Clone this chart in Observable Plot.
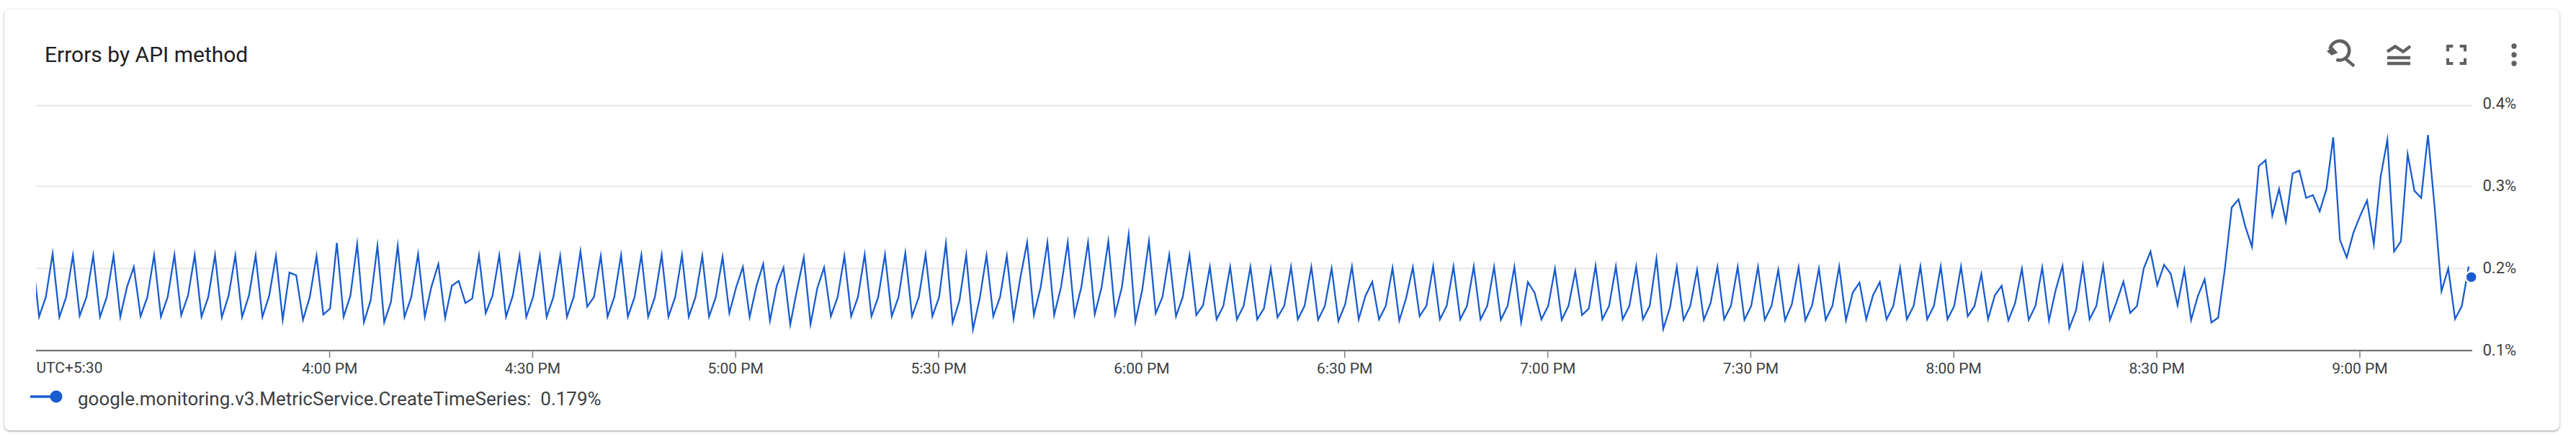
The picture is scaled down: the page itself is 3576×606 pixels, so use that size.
<!DOCTYPE html>
<html>
<head>
<meta charset="utf-8">
<script src="https://cdn.jsdelivr.net/npm/d3@7"></script>
<script src="https://cdn.jsdelivr.net/npm/@observablehq/plot@0.6"></script>
<style>
  html, body { margin: 0; padding: 0; background: #fff; width: 3576px; height: 606px; overflow: hidden; font-family: Roboto, sans-serif; }
  #card { position: absolute; left: 6px; top: 13px; width: 3547px; height: 584px; border-radius: 8px; background: #fff;
          box-shadow: 0 1px 2px rgba(60,64,67,.45), 0 1px 4px 1px rgba(60,64,67,.12); }
  #title { position: absolute; left: 62px; top: 58px; font-size: 30px; line-height: 36px; color: #202124; white-space: nowrap; }
  #chart { position: absolute; left: 0; top: 100px; }
  #legend-text { position: absolute; left: 108px; top: 535px; font-size: 26px; line-height: 36px; color: #3c4043; white-space: pre; }
  svg.deco { position: absolute; overflow: visible; }
</style>
</head>
<body>
<div id="card"></div>
<div id="title"></div>
<svg class="deco" style="left:3210px;top:40px" width="300" height="70" viewBox="0 0 900 210" fill="none" stroke="#616161">
  <path d="M74 84A40 40 0 1 1 100 128" stroke-width="14"/>
  <path d="M60 93L84 76L106 100L80 110Z" fill="#616161" stroke="none"/>
  <path d="M135 122L174 155" stroke-width="13"/>
  <path d="M312 95L345 73L378 95L408 73" stroke-width="13"/>
  <path d="M312 120H408M312 144H408" stroke-width="14"/>
  <path d="M564 94V72H586M614 72H636V94M564 122V144H586M614 144H636V122" stroke-width="12"/>
  <circle cx="840" cy="72" r="11" fill="#616161" stroke="none"/>
  <circle cx="840" cy="108" r="11" fill="#616161" stroke="none"/>
  <circle cx="840" cy="144" r="11" fill="#616161" stroke="none"/>
</svg>
<div id="chart"></div>
<svg class="deco" style="left:40px;top:535px" width="50" height="36" viewBox="0 0 50 36">
  <path d="M2 15H30" stroke="#185ccf" stroke-width="3.5"/>
  <circle cx="38" cy="15" r="8.5" fill="#185ccf"/>
</svg>
<div id="legend-text"></div>
<script>
const chartTitle = "Errors by API method";
const seriesName = "google.monitoring.v3.MetricService.CreateTimeSeries";
const seriesLatest = "0.179%";
const timezoneLabel = "UTC+5:30";
const lineColor = "#185ccf";

// Error rate (%), one sample per minute from 3:16 PM
const errorsA = [0.2164,
  .1412,.1652,.2178, .1409,.1652,.2158, .1424,.1652,.2158, .1409,.1652,.2158,
  .1412,.1778,.2018, .1418,.1652,.2164, .1412,.1652,.2164, .1433,.1667,.2164,
  .1412,.1652,.2164, .1404,.1667,.2158, .1409,.1667,.2158, .1409,.1667,.2152,
  .1374,.1950,.1915, .1374,.1652,.2152, .1439,.1512,.2310, .1412,.1667,.2295,
  .1345,.1614,.2275, .1345,.1594,.2275, .1409,.1652,.2173, .1412,.1784,.2053];
const errorsB = [
  .1398,.1789,.1848, .1579,.1632,.2158, .1456,.1667,.2158, .1412,.1667,.2152,
  .1409,.1652,.2152, .1409,.1652,.2152, .1409,.1652,.2208, .1535,.1652,.2152,
  .1412,.1652,.2164, .1412,.1652,.2164, .1412,.1652,.2164, .1412,.1652,.2164,
  .1412,.1652,.2152, .1412,.1652,.2140, .1456,.1769,.2018, .1409,.1784,.2053,
  .1365,.1789,.2009, .1316,.1740,.2135, .1322,.1760,.2012, .1418,.1652,.2152];
const errorsC = [
  .1418,.1652,.2170, .1418,.1652,.2170, .1418,.1652,.2187, .1418,.1652,.2170,
  .1418,.1652,.2304, .1339,.1608,.2164, .1257,.1637,.2158, .1418,.1652,.2152,
  .1389,.1886,.2316, .1433,.1769,.2316, .1433,.1769,.2316, .1433,.1769,.2316,
  .1442,.1769,.2330, .1442,.1769,.2412, .1351,.1731,.2330, .1453,.1652,.2164,
  .1418,.1652,.2158, .1433,.1550,.2018, .1380,.1544,.2018, .1380,.1544,.2018];
const errorsD = [
  .1380,.1515,.2000, .1404,.1544,.2018, .1380,.1544,.2018, .1374,.1544,.2000,
  .1360,.1564,.2023, .1380,.1667,.1836, .1380,.1544,.2006, .1365,.1637,.2012,
  .1418,.1544,.2023, .1380,.1544,.2023, .1380,.1544,.2023, .1380,.1544,.2018,
  .1374,.1544,.2018, .1345,.1833,.1702, .1380,.1544,.1997, .1374,.1544,.1965,
  .1433,.1512,.2032, .1380,.1544,.2023, .1380,.1544,.2023, .1380,.1544,.2120];
const errorsE = [
  .1263,.1526,.2018, .1374,.1544,.1982, .1374,.1579,.2018, .1380,.1544,.2018,
  .1374,.1544,.2018, .1374,.1544,.1982, .1368,.1564,.2012, .1368,.1550,.1997,
  .1374,.1544,.2023, .1368,.1705,.1827, .1380,.1673,.1833, .1380,.1544,.2006,
  .1380,.1544,.2023, .1380,.1544,.2023, .1380,.1544,.2023, .1418,.1544,.1930,
  .1383,.1673,.1789, .1368,.1579,.1997, .1374,.1544,.2012, .1365,.1740,.2029];
const errorsF = [
  .1272,.1491,.2032, .1380,.1544,.2029, .1374,.1594,
  .1839,.1459,.1541,.2000,.2205,.1795,.2044,.1933,.1553,.1985,.1371,.1664,
  .1868,.1342,.1401,.2000,.2740,.2839,.2512,.2263,.3243,.3316,.2643,.2965,
  .2570,.3155,.3190,.2857,.2892,.2693,.2965,.3594,.2345,.2132,.2439,.2643,
  .2827,.2292,.3111,.3564,.2205,.2330,.3389,.2944,.2857,.3623,.2731,.1722,
  .2000,.1386,.1541,.2015];
const errorValues = [...errorsA, ...errorsB, ...errorsC, ...errorsD, ...errorsE, ...errorsF];

const yTicks = [0.1, 0.2, 0.3, 0.4];
const gridValues = [0.2, 0.3];
const topGridValue = [0.4];
const tickTimes = ["16:00","16:30","17:00","17:30","18:00","18:30","19:00","19:30","20:00","20:30","21:00"];
const windowStart = "15:16:40";
const windowEnd = "21:16:40";
const firstSample = "15:16:04";
const hoverTime = "21:16:28";
const hoverValue = 0.1895;

const at = s => new Date(`2024-01-01T${s.length === 5 ? s + ":00" : s}Z`);
const table = errorValues.map((value, i) => ({ time: new Date(+at(firstSample) + i * 60000), value }));
const axisFormat = d3.utcFormat("%-I:%M %p");

document.getElementById("title").textContent = chartTitle;
document.getElementById("legend-text").textContent = seriesName + ":  " + seriesLatest;

const plot = Plot.plot({
  width: 3576,
  height: 430,
  marginLeft: 50,
  marginRight: 144,
  marginTop: 2,
  marginBottom: 44,
  style: { background: "transparent", fontFamily: "Roboto, sans-serif" },
  x: { type: "utc", domain: [at(windowStart), at(windowEnd)] },
  y: { type: "linear", domain: [0.1, 0.3], range: [385.7, 157.7] },
  marks: [
    Plot.ruleY(gridValues, { stroke: "#e8e8e8", strokeWidth: 2 }),
    Plot.ruleY(topGridValue, { stroke: "#e8e8e8", strokeWidth: 2, dy: 2.3 }),
    Plot.ruleY([0.1], { stroke: "#757575", strokeWidth: 2.3 }),
    Plot.axisX({
      ticks: tickTimes.map(at), tickSize: 10, tickPadding: 7, tickFormat: axisFormat, label: null,
      stroke: "#80868b", strokeWidth: 1.6, fill: "#3c4043", fontSize: 21, anchor: "bottom"
    }),
    Plot.axisY({
      ticks: yTicks, anchor: "right", tickSize: 0, tickPadding: 14, label: null,
      tickFormat: d => d.toFixed(1) + "%", fill: "#3c4043", fontSize: 22, textAnchor: "start"
    }),
    Plot.text([timezoneLabel], {
      x: () => at(windowStart), y: () => 0.1, dy: 24, textAnchor: "start", fill: "#3c4043", fontSize: 21
    }),
    Plot.line(table, {
      x: "time", y: "value", stroke: lineColor, strokeWidth: 2.3, clip: true,
      curve: "linear", strokeLinejoin: "miter", strokeMiterlimit: 10
    }),
    Plot.dot([{ time: at(hoverTime), value: hoverValue }], {
      x: "time", y: "value", r: 8, fill: lineColor, stroke: "#fff", strokeWidth: 2.5
    })
  ]
});
document.getElementById("chart").appendChild(plot);
</script>
</body>
</html>
